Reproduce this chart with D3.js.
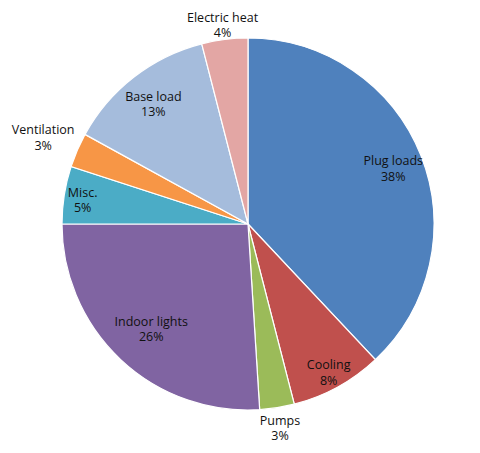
<!DOCTYPE html>
<html><head><meta charset="utf-8">
<script src="https://cdn.jsdelivr.net/npm/d3@7"></script>
<style>body{margin:0;background:#fff}</style></head>
<body><svg id="c" width="480" height="453"></svg>
<script>
const categories = ["Plug loads","Cooling","Pumps","Indoor lights","Misc.","Ventilation","Base load","Electric heat"];
const values = [38,8,3,26,5,3,13,4];
const colors = ["#4f81bd","#c0504d","#9bbb59","#8064a2","#4bacc6","#f79646","#a5bcdc","#e3a6a4"];
const labelDist = [0.84,0.9,1.1,0.76,0.9,1.2,0.83,1.09];

const svg = d3.select("#c");
const cx=248, cy=224, r=186;
const g = svg.append("g").attr("transform",`translate(${cx},${cy})`);
const pie = d3.pie().sort(null).value(d=>d.v);
const data = pie(categories.map((c,i)=>({c,v:values[i],i})));
const arc = d3.arc().innerRadius(0).outerRadius(r);
g.selectAll("path").data(data).join("path")
  .attr("d",arc).attr("fill",d=>colors[d.data.i])
  .attr("stroke","#fff").attr("stroke-width",1.2);
const t = g.selectAll("text").data(data).join("text")
  .attr("font-family","Open Sans, sans-serif").attr("font-size",12.5).attr("fill","#111")
  .attr("text-anchor","middle")
  .attr("transform",d=>{const a=(d.startAngle+d.endAngle)/2, k=r*labelDist[d.data.i];
    return `translate(${k*Math.sin(a)},${-k*Math.cos(a)})`;});
t.append("tspan").attr("x",0).attr("dy","-0.1em").text(d=>d.data.c);
t.append("tspan").attr("x",0).attr("dy","1.25em").text(d=>d.data.v+"%");
</script></body></html>
